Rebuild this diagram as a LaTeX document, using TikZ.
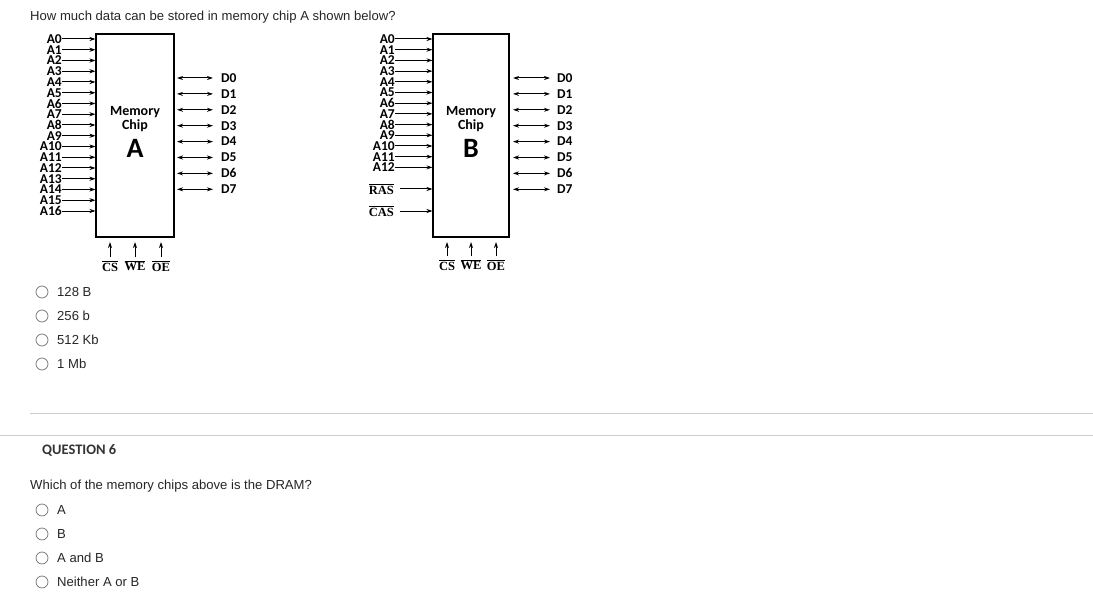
\documentclass[tikz,border=0pt]{standalone}
\usepackage{fontspec}
\setmainfont{Liberation Sans}
\newfontfamily\carlfont{Carlito}
\newfontfamily\serfont{Liberation Serif}
\usetikzlibrary{arrows.meta}
\begin{document}
\begin{tikzpicture}[x=1pt,y=-1pt,
  lab/.style={font=\carlfont\bfseries\fontsize{13.5}{11}\selectfont,inner sep=0pt},
  sig/.style={font=\serfont\bfseries\fontsize{12.5}{11}\selectfont,inner sep=0pt},
  arr/.style={-{Stealth[length=6pt,width=4pt]},line width=1pt},
  barr/.style={{Stealth[length=6pt,width=4pt]}-{Stealth[length=6pt,width=4pt]},line width=1pt},
  chip/.style={draw,line width=1.4pt,inner sep=0pt},
  txt/.style={font=\fontsize{13.1}{13}\selectfont,inner sep=0pt,anchor=west,text=black!85},
  rad/.style={draw=black!55,line width=0.7pt,circle,minimum size=12pt,inner sep=0pt}]
\useasboundingbox (0,0) rectangle (1093,615);
\fill[white] (0,0) rectangle (1093,615);
\node[txt] (q5) at (30,17) {How much data can be stored in memory chip A shown below?};
% chip A
\node[chip,minimum width=78pt,minimum height=203pt] (ca) at (135,135.5) {};
\node[lab,font=\carlfont\bfseries\fontsize{14}{14}\selectfont,align=center] (ma) at (135,119) {Memory\\Chip};
\node[font=\carlfont\bfseries\fontsize{28}{28}\selectfont,inner sep=0pt] (la) at (135,148) {A};
\foreach \i in {0,...,16}{
  \node[lab,anchor=east] (aa\i) at (62,39+10.75*\i) {A\i};
  \coordinate (ae\i) at (95.5,39+10.75*\i);
  \draw[arr] (aa\i.east) -- (ae\i);}
\foreach \i in {0,...,7}{
  \node[lab,anchor=west] (da\i) at (221,78+15.9*\i) {D\i};
  \coordinate (ds\i) at (177,78+15.9*\i);
  \coordinate (dt\i) at (213,78+15.9*\i);
  \draw[barr] (ds\i) -- (dt\i);}
\foreach \n/\x in {CS/110,WE/135,OE/161}{
  \node[sig] (a\n) at (\x,266) {$\overline{\hbox{\n}}$};
  \coordinate (at\n) at (\x,242);
  \draw[arr] (\x,257) -- (at\n);}
% chip B
\node[chip,minimum width=76pt,minimum height=203pt] (cb) at (471,135.5) {};
\node[lab,font=\carlfont\bfseries\fontsize{14}{14}\selectfont,align=center] (mb) at (471,119) {Memory\\Chip};
\node[font=\carlfont\bfseries\fontsize{28}{28}\selectfont,inner sep=0pt] (lb) at (471,148) {B};
\foreach \i in {0,...,12}{
  \node[lab,anchor=east] (ba\i) at (395,39+10.7*\i) {A\i};
  \coordinate (be\i) at (432.5,39+10.7*\i);
  \draw[arr] (ba\i.east) -- (be\i);}
\node[sig,anchor=east] (ras) at (394,189) {$\overline{\hbox{RAS}}$};
\node[sig,anchor=east] (cas) at (394,211) {$\overline{\hbox{CAS}}$};
\coordinate (rase) at (432.5,189); \coordinate (case) at (432.5,211);
\draw[arr] ([xshift=6pt]ras.east) -- (rase);
\draw[arr] ([xshift=6pt]cas.east) -- (case);
\foreach \i in {0,...,7}{
  \node[lab,anchor=west] (db\i) at (557,78+15.9*\i) {D\i};
  \coordinate (es\i) at (513,78+15.9*\i);
  \coordinate (et\i) at (550,78+15.9*\i);
  \draw[barr] (es\i) -- (et\i);}
\foreach \n/\x in {CS/447,WE/471,OE/496}{
  \node[sig] (b\n) at (\x,265) {$\overline{\hbox{\n}}$};
  \coordinate (bt\n) at (\x,242);
  \draw[arr] (\x,256) -- (bt\n);}
% options
\foreach \t [count=\k from 0] in {128 B,256 b,512 Kb,1 Mb}{
  \node[rad] (r\k) at (42,292+24*\k) {};
  \node[txt] (o\k) at (57,292+24*\k) {\t};}
\draw[black!20,line width=0.8pt] (30,413) -- (1093,413);
\draw[black!20,line width=0.8pt] (0,435) -- (1093,435);
\node[txt,font=\carlfont\fontsize{14.5}{14}\selectfont\bfseries,text=black!80] (q6) at (42,450) {QUESTION 6};
\node[txt] (q6t) at (30,486) {Which of the memory chips above is the DRAM?};
\foreach \t [count=\k from 0] in {A,B,A and B,Neither A or B}{
  \node[rad] (s\k) at (42,510+24*\k) {};
  \node[txt] (p\k) at (57,510+24*\k) {\t};}
\end{tikzpicture}
\end{document}
